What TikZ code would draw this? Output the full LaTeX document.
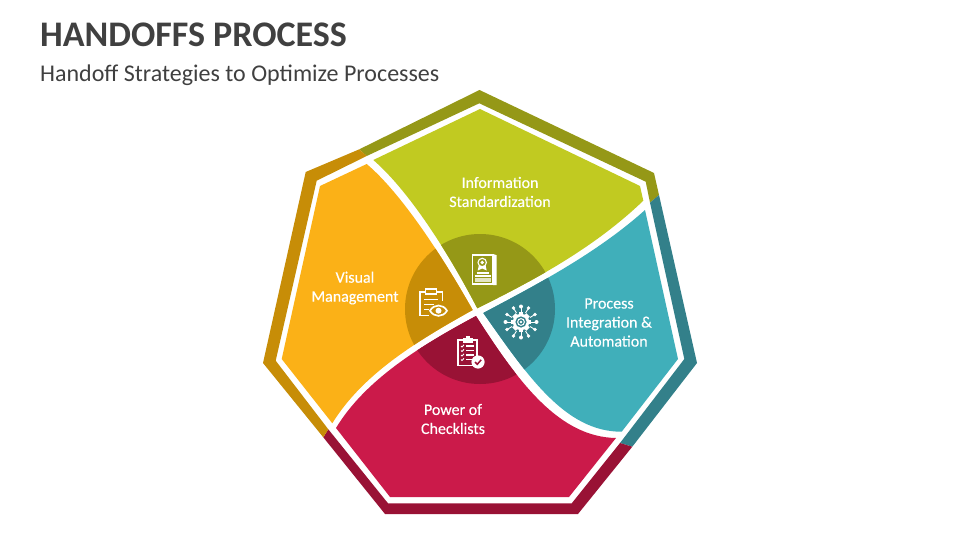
\documentclass[tikz,border=0pt]{standalone}
\usepackage{fontspec}
\setmainfont{Carlito}
\newfontfamily\labfont[FakeBold=0.25]{Carlito}
\definecolor{olv}{HTML}{C1CA21}\definecolor{olvd}{HTML}{959817}
\definecolor{org}{HTML}{FBB117}\definecolor{orgd}{HTML}{C78D07}
\definecolor{tea}{HTML}{40AFBA}\definecolor{tead}{HTML}{33808A}
\definecolor{cri}{HTML}{CB1A4A}\definecolor{crid}{HTML}{991235}
\definecolor{ink}{HTML}{404040}
\tikzset{
 lab/.style={text=white,font=\labfont\fontsize{16}{19}\selectfont,align=center,inner sep=0pt},
 ico/.style={draw=white,line width=1.7pt,line join=miter},
 icothin/.style={draw=white,line width=1.1pt},
}
\newcommand{\segO}{(373.3,160) -- (480,109) -- (640,186) -- (643.3,200.7) .. controls (592,250) and (530,282) .. (477.3,308.3) .. controls (447,250) and (408,190) .. cycle}
\newcommand{\segY}{(366.7,164) -- (320,186) -- (281.7,359) -- (332.3,423.3) .. controls (362,375) and (415,342) .. (472.7,310) .. controls (441,254) and (401,193) .. cycle}
\newcommand{\segC}{(476,316) .. controls (420,346) and (365,380) .. (336,428) -- (390,497) -- (569,497) -- (616,438) .. controls (560,437) and (520,385) .. cycle}
\newcommand{\segT}{(483.3,313) .. controls (530,288) and (595,255) .. (645,210) -- (678,359) -- (621.7,431.7) .. controls (565,432) and (527,375) .. cycle}
\begin{document}
\begin{tikzpicture}[x=1pt,y=-1pt]
\useasboundingbox (0,0) rectangle (960,540);
\node[anchor=base west,inner sep=0pt,text=ink,font=\fontsize{36}{40}\selectfont\bfseries] (title) at (40,46.8) {HANDOFFS PROCESS};
\node[anchor=base west,inner sep=0pt,text=ink,font=\fontsize{24}{28}\selectfont] (subtitle) at (40,81.6) {Handoff Strategies to Optimize Processes};
% outer band
\fill[olvd] (359.3,149.3) -- (479.5,90) -- (654,173) -- (659,195) -- (650,202.7) -- (645.7,181.7) -- (479.3,103.3) -- (366.7,156) -- cycle;
\fill[tead] (659,195) -- (650,202.7) -- (684.3,359) -- (620,443) -- (632.3,446.7) -- (697,363) -- cycle;
\fill[crid] (632.3,446.7) -- (578,514) -- (385,514) -- (323.3,437.3) -- (328.3,429.3) -- (388,503.3) -- (571.7,503.3) -- (620,443) -- cycle;
\fill[orgd] (323.3,437.3) -- (263,363) -- (305.7,172) -- (359.3,149.3) -- (366.7,156) -- (316.7,180.7) -- (275.7,360.7) -- (328.3,429.3) -- cycle;
% segments
\fill[olv] \segO; \fill[org] \segY; \fill[cri] \segC; \fill[tea] \segT;
\begin{scope}\clip (480,309) circle (75); \fill[olvd] \segO; \end{scope}
\begin{scope}\clip (480,309) circle (75); \fill[orgd] \segY; \end{scope}
\begin{scope}\clip (480,309) circle (75); \fill[crid] \segC; \end{scope}
\begin{scope}\clip (480,309) circle (75); \fill[tead] \segT; \end{scope}
% labels
\node[lab] (l1) at (500,192) {Information\\Standardization};
\node[lab] (l2) at (355,288) {Visual\\Management};
\node[lab] (l3) at (609,322.5) {Process\\Integration \&\\Automation};
\node[lab] (l4) at (453,419) {Power of\\Checklists};
% certificate icon
\begin{scope}[shift={(471.7,254)}]
 \draw[ico] (.8,.8) rectangle (21.5,30.2);
 \fill[white] (21.5,0) -- (25,1.2) -- (25,31) -- (21.5,31) -- cycle;
 \draw[icothin] (10.5,8.5) circle (4.2);
 \fill[white] (10.5,8.5) circle (1.8);
 \fill[white] (7,12) -- (14,12) -- (15,16.5) -- (10.5,14.5) -- (6,16.5) -- cycle;
 \draw[icothin] (5,19) -- (17,19) (3,22) -- (19,22);
 \fill[white,opacity=.75] (3,24.3) rectangle (19,27.8);
\end{scope}
% clipboard + eye icon
\begin{scope}[shift={(419,288)}]
 \draw[ico] (10,27.5) -- (1,27.5) -- (1,4) -- (6,4) (18,4) -- (23.5,4) -- (23.5,13);
 \draw[white,line width=1.5pt] (6.5,.8) rectangle (17.5,6);
 \draw[white,line width=1.6pt] (5,11.5) -- (19,11.5) (5,16.5) -- (15,16.5) (5,21.5) -- (10,21.5);
 \draw[ico,fill=orgd] (11,22.7) .. controls (15,15.8) and (24,15.8) .. (28,22.7) .. controls (24,29.6) and (15,29.6) .. cycle;
 \fill[white] (19.5,22.7) circle (3);
\end{scope}
% gear icon
\begin{scope}[shift={(521,322)}]
 \foreach \a in {0,45,...,315} \fill[white,rotate=\a] (-2.4,-10) rectangle (2.4,-6);
 \fill[white] (0,0) circle (8.2);
 \fill[tead] (0,0) circle (5.6);
 \draw[icothin,line width=1pt] (0,0) circle (3.4);
 \fill[white] (0,0) circle (1.4);
 \foreach \a in {0,90,180,270} {
  \begin{scope}[rotate=\a]
   \draw[icothin,line width=.9pt] (0,-10) -- (0,-14);
   \fill[white] (0,-15.5) circle (2);
   \draw[icothin,line width=.9pt] (-4.5,-9) -- (-7,-13);
   \fill[white] (-7.5,-14) circle (1.8);
   \draw[icothin,line width=.9pt] (4.5,-9) -- (7,-13);
   \fill[white] (7.5,-14) circle (1.8);
  \end{scope}
 }
\end{scope}
% checklist icon
\begin{scope}[shift={(457,337)}]
 \draw[ico] (1,3) rectangle (20,28.5);
 \fill[white] (5.5,1) rectangle (15.5,5.5);
 \fill[white] (8.5,-1.2) rectangle (12.5,2);
 \foreach \y in {9,13.5,18,22.5} {
  \draw[icothin,line width=.9pt] (4,\y) -- (5,\y+1) -- (7,\y-1.2);
  \draw[icothin,line width=1.4pt] (9,\y) -- (17,\y);
 }
 \fill[white] (21,25) circle (6.6);
 \draw[crid,line width=1.5pt] (18,25) -- (20.3,27.3) -- (24.2,22.8);
\end{scope}
\end{tikzpicture}
\end{document}
